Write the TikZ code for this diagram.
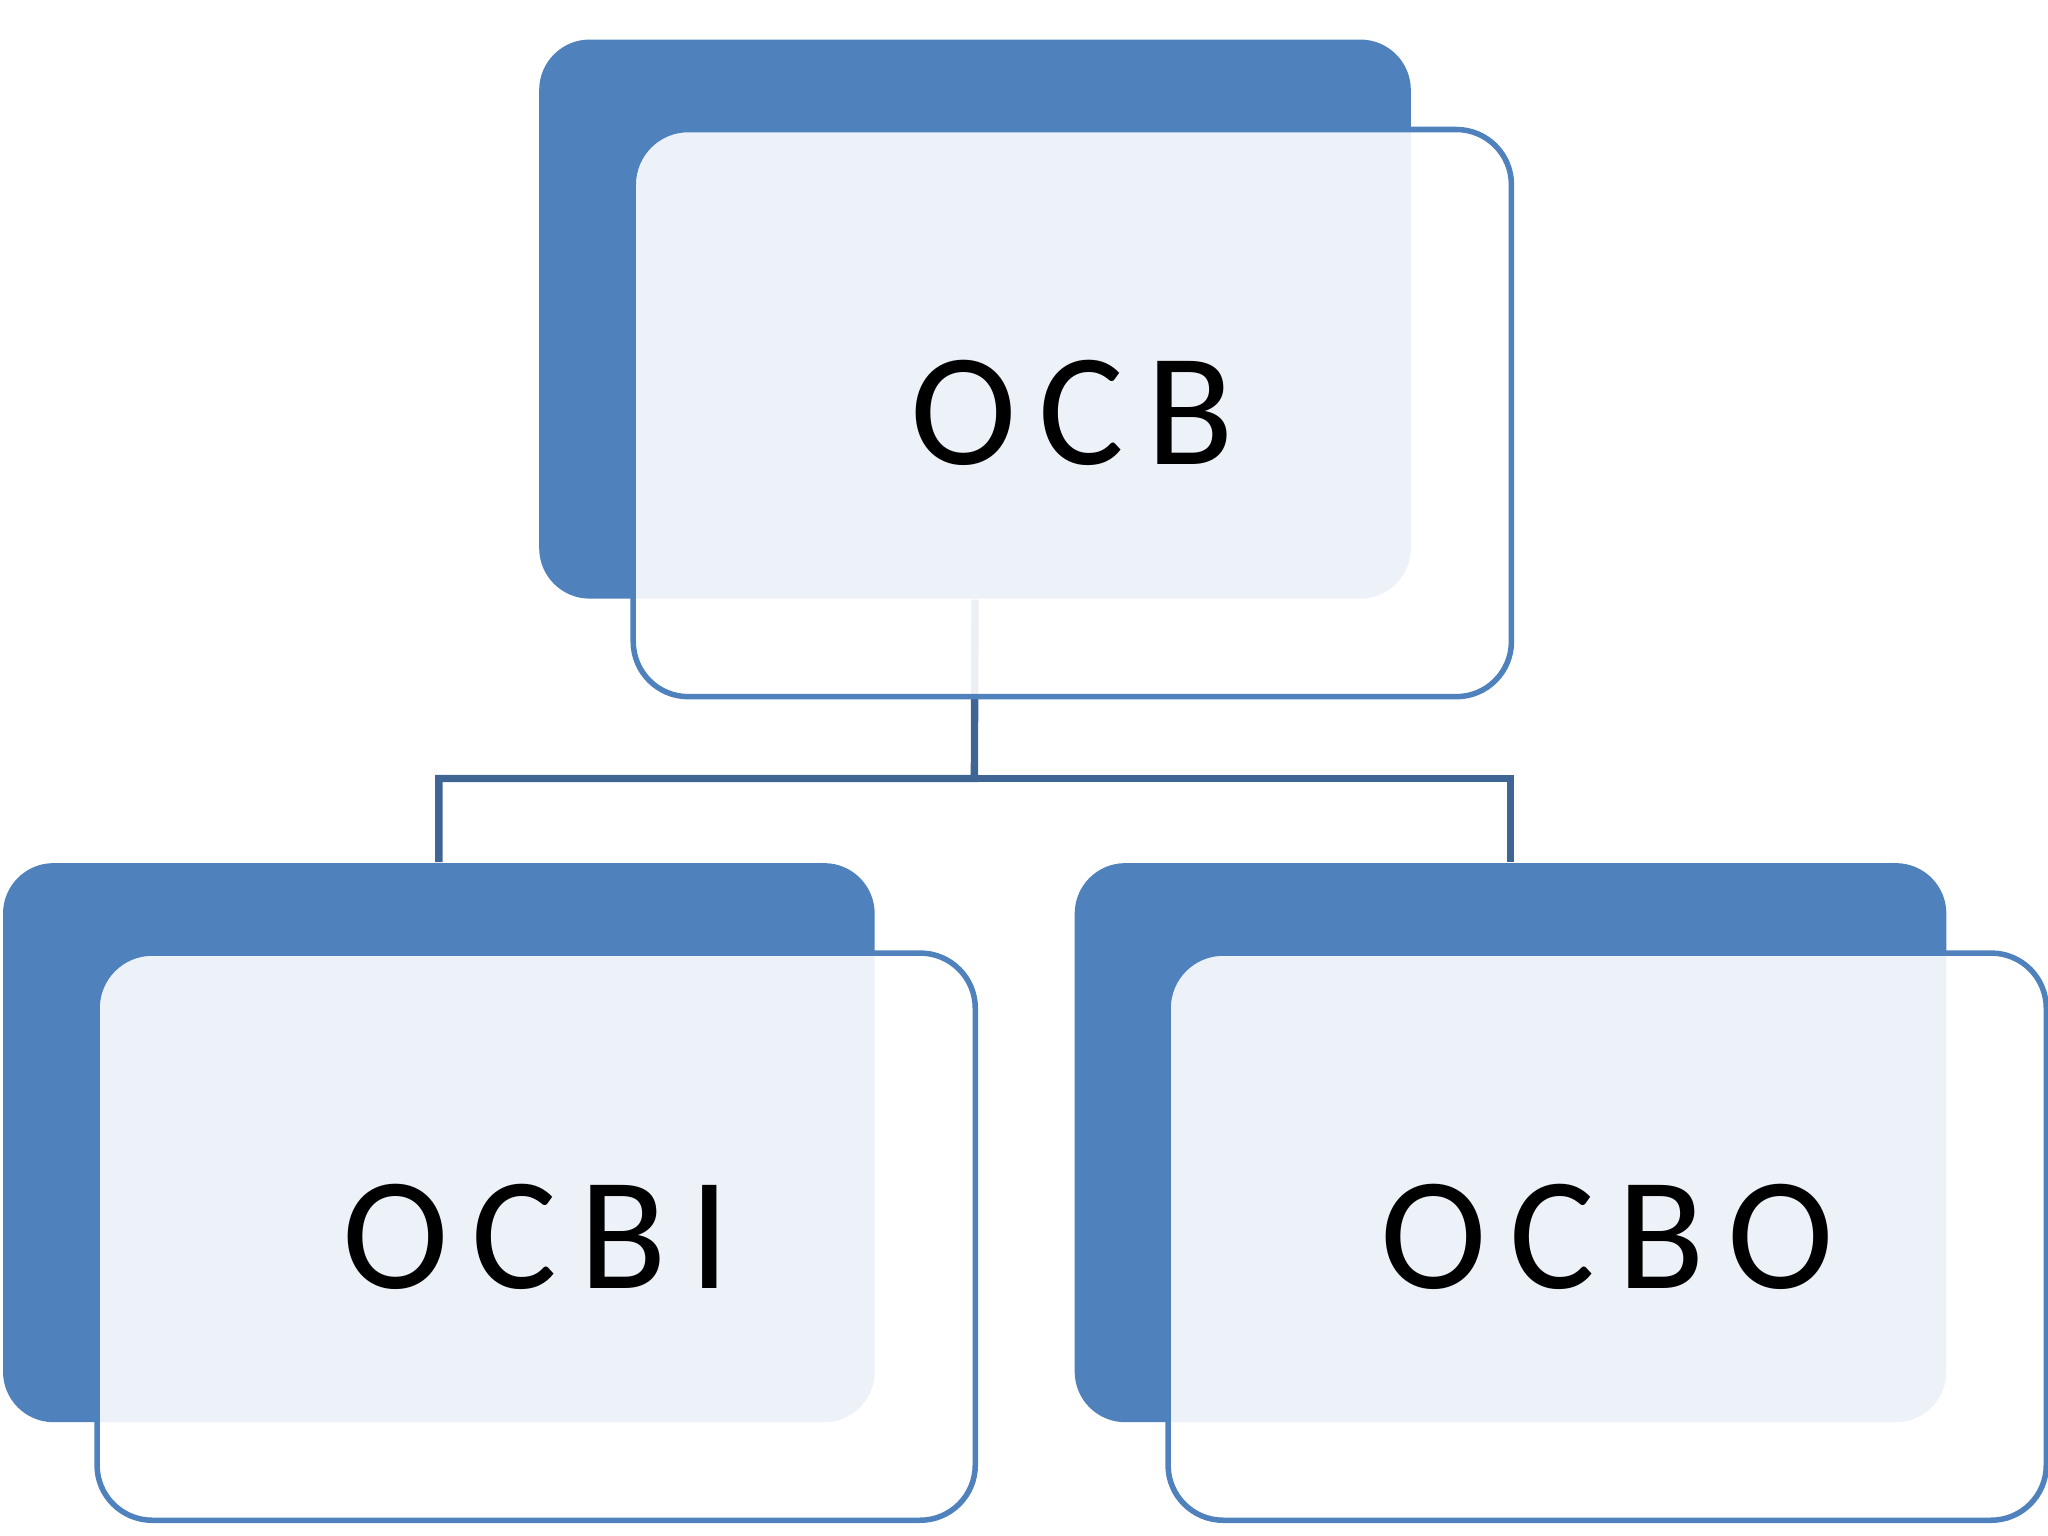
\documentclass[tikz,border=0pt]{standalone}
\usepackage{fontspec}
\setmainfont{Carlito}
\definecolor{bluefill}{HTML}{4F81BD}
\definecolor{conn}{HTML}{3F6595}
\begin{document}
\begin{tikzpicture}[x=0.01cm,y=0.010138cm,
  bluebox/.style={draw=none,fill=bluefill,rounded corners=11pt,minimum width=6.67cm,minimum height=4.278cm,inner sep=0pt},
  whitebox/.style={draw=bluefill,line width=1.2pt,fill=white,fill opacity=0.9,text opacity=1,rounded corners=12pt,minimum width=6.72cm,minimum height=4.34cm,inner sep=0pt,font=\fontsize{35}{40}\selectfont\addfontfeature{LetterSpace=14}},
  connector/.style={draw=conn,line width=1.6pt}]
\useasboundingbox (0,0) rectangle (1568,-1160);
\node[bluebox] (tb) at (746.5,-241) {};
\node[bluebox] (lb) at (336,-863) {};
\node[bluebox] (rb) at (1156.5,-863) {};
\coordinate (j) at (746,-588);
\draw[connector] (tb.south) -- (j) -| (lb.north);
\draw[connector] (j) -| (rb.north);
\node[whitebox] (tw) at (821,-312) {OCB};
\node[whitebox] (lw) at (410.5,-934) {OCBI};
\node[whitebox] (rw) at (1230.5,-934) {OCBO};
\end{tikzpicture}
\end{document}
